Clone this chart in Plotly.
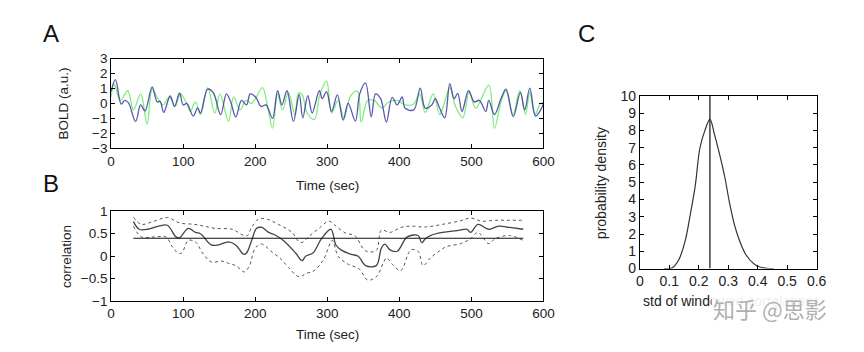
import plotly.graph_objects as go

# ---------------- Panel A: BOLD signals (extrema) ----------------
blue_t = [0, 6, 14, 19, 24, 34, 41, 47, 57, 64, 68, 73, 82, 88, 95, 100, 105, 114, 120, 124,
          134, 142, 152, 160, 166, 173, 181, 188, 193, 201, 208, 215, 224, 231, 237, 244, 253,
          261, 266, 273, 279, 289, 293, 299, 306, 314, 322, 329, 339, 345, 353, 361, 367, 374,
          382, 390, 397, 404, 408, 420, 429, 436, 445, 450, 455, 463, 470, 476, 481, 487, 496,
          504, 511, 520, 524, 532, 541, 548, 558, 568, 574, 581, 589, 595, 600]
blue_v = [0.8, 1.6, -0.05, 0.2, 0.05, -1.2, -0.1, -0.5, 1.1, 0.1, 0.15, -0.6, 0.5, -0.2, 0.7, -0.1, 0.0, -0.85, -0.3, -0.65,
          0.96, 0.7, -0.75, 0.64, 0.1, -0.9, 0.2, -0.1, 0.64, 0.4, -0.2, -0.1, -1.0, 0.85, -0.1, 0.85, -1.2,
          0.6, -0.96, 0.53, -0.64, 0.85, 0.32, 0.79, -0.53, 0.57, -1.12, 0.0, -1.18, 0.64, 1.38, -0.89, 0.64, 0.32,
          -1.24, 0.4, -0.1, 0.43, -0.32, -0.43, 1.02, -0.32, -0.1, 0.32, -0.2, -0.96, 1.32, 0.32, 0.68, -0.53, 0.85,
          0.1, 0.21, -0.53, 0.2, -0.74, 0.32, 0.96, -0.89, 0.74, -0.43, 1.02, -0.85, -0.53, 0.0]

green_t = [0, 4, 13, 23, 31, 41, 50, 57, 65, 72, 81, 89, 96, 105, 110, 117, 124, 134, 144, 151,
           163, 170, 179, 187, 195, 210, 217, 224, 231, 238, 246, 255, 260, 265, 272, 282, 290,
           299, 306, 315, 323, 332, 342, 347, 356, 365, 376, 385, 397, 408, 420, 428, 436, 447,
           456, 463, 470, 478, 488, 497, 506, 524, 532, 541, 548, 558, 567, 575, 581, 588, 596, 600]
green_v = [0.43, 1.3, 0.21, 0.85, -0.43, 0.64, -1.38, 0.96, 0.32, -0.1, 0.43, -0.2, 0.64, 0.0, -0.53, 0.1, -0.74, 1.06, -0.64, 0.64,
           -1.2, 0.43, -0.43, 0.21, 0.0, 1.06, -0.2, -1.65, 0.64, -0.43, 0.74, -0.74, 0.7, 0.6, -0.64, -1.07, 0.64,
           1.49, -0.64, 0.2, -0.96, 0.47, 0.81, -1.24, 0.2, 0.2, -0.3, 0.1, 0.2, -0.1, -0.04, 0.64, -0.6, 0.64,
           -0.74, 0.1, 1.06, -0.2, -0.96, 0.74, -0.32, 1.23, -1.66, 0.1, 0.85, -0.74, 0.85, -0.74, 0.74, -0.74, 0.0, 0.05]

# ---------------- Panel B: windowed correlation ----------------
mean_t = [31, 39, 51, 66, 78, 90, 95, 107, 117, 124, 139, 149, 163, 173, 184, 188, 195, 202, 209, 219,
          229, 241, 256, 265, 270, 280, 292, 305, 312, 319, 333, 343, 353, 368, 375, 380, 387, 397,
          411, 426, 431, 436, 443, 460, 480, 494, 499, 509, 524, 538, 553, 572]
mean_v = [0.77, 0.6, 0.6, 0.67, 0.69, 0.43, 0.41, 0.62, 0.53, 0.5, 0.25, 0.25, 0.32, 0.25, 0.04, 0.07, 0.35, 0.62, 0.64, 0.53,
          0.46, 0.32, 0.07, -0.1, 0.0, 0.07, 0.39, 0.6, 0.25, 0.14, 0.04, 0.0, -0.21, -0.21, 0.18, 0.27, 0.14, 0.11,
          0.43, 0.46, 0.30, 0.39, 0.46, 0.53, 0.57, 0.6, 0.53, 0.71, 0.6, 0.67, 0.64, 0.6]

upper_t = [31, 42, 56, 78, 95, 115, 129, 144, 168, 188, 195, 205, 217, 232, 251, 263, 276, 290, 302, 312,
           326, 338, 353, 368, 375, 387, 402, 416, 436, 460, 485, 499, 514, 533, 553, 572]
upper_v = [0.87, 0.71, 0.76, 0.86, 0.74, 0.71, 0.67, 0.62, 0.6, 0.45, 0.64, 0.83, 0.82, 0.71, 0.53, 0.3, 0.46, 0.64, 0.78, 0.67,
           0.51, 0.46, 0.12, 0.13, 0.58, 0.53, 0.64, 0.67, 0.65, 0.71, 0.79, 0.85, 0.78, 0.8, 0.8, 0.8]

lower_t = [31, 42, 61, 76, 85, 93, 98, 107, 117, 127, 139, 154, 163, 173, 185, 192, 200, 209, 222, 236,
           246, 261, 270, 282, 295, 307, 315, 329, 344, 356, 368, 378, 382, 392, 402, 416, 426, 433,
           443, 455, 465, 485, 499, 509, 524, 533, 553, 572]
lower_v = [0.67, 0.43, 0.43, 0.43, 0.21, 0.07, 0.07, 0.35, 0.32, 0.07, -0.13, -0.11, -0.16, -0.21, -0.35, -0.21, 0.18, 0.27, 0.11, -0.07,
           -0.25, -0.46, -0.39, -0.32, -0.07, 0.35, 0.0, -0.18, -0.28, -0.53, -0.46, -0.14, -0.04, -0.21, -0.32, 0.14, 0.11, -0.21,
           -0.04, 0.11, 0.21, 0.28, 0.39, 0.53, 0.28, 0.39, 0.46, 0.35]

thresh_t = [31, 572]
thresh_v = [0.4, 0.4]

# ---------------- Panel C: density of std ----------------
std_x = [0.082, 0.11, 0.132, 0.154, 0.171, 0.188, 0.204, 0.221, 0.238, 0.254, 0.271, 0.288, 0.304,
         0.321, 0.338, 0.36, 0.388, 0.41, 0.454]
dens_y = [0.0, 0.05, 0.5, 1.6, 3.1, 4.77, 6.98, 8.0, 8.64, 7.72, 6.6, 5.33, 3.85,
          2.55, 1.64, 0.8, 0.27, 0.08, 0.0]
obs_std = 0.238

W, H = 864, 352
FONT = "Liberation Sans, Arial, sans-serif"

fig = go.Figure()
fig.add_trace(go.Scatter(x=green_t, y=green_v, mode="lines", line=dict(color="#7ded7d", width=1.3, shape="spline"), xaxis="x", yaxis="y"))
fig.add_trace(go.Scatter(x=blue_t, y=blue_v, mode="lines", line=dict(color="#3c3ca0", width=1.3, shape="spline"), opacity=0.85, xaxis="x", yaxis="y"))

fig.add_trace(go.Scatter(x=upper_t, y=upper_v, mode="lines", line=dict(color="#555555", width=1, dash="dot", shape="spline"), xaxis="x2", yaxis="y2"))
fig.add_trace(go.Scatter(x=lower_t, y=lower_v, mode="lines", line=dict(color="#555555", width=1, dash="dot", shape="spline"), xaxis="x2", yaxis="y2"))
fig.add_trace(go.Scatter(x=mean_t, y=mean_v, mode="lines", line=dict(color="#444444", width=1.3, shape="spline"), xaxis="x2", yaxis="y2"))
fig.add_trace(go.Scatter(x=thresh_t, y=thresh_v, mode="lines", line=dict(color="#111111", width=1.2), xaxis="x2", yaxis="y2"))

fig.add_trace(go.Scatter(x=std_x, y=dens_y, mode="lines", line=dict(color="#333333", width=1.2, shape="spline"), xaxis="x3", yaxis="y3"))
fig.add_trace(go.Scatter(x=[obs_std, obs_std], y=[0, 10], mode="lines", line=dict(color="#111111", width=1.2), xaxis="x3", yaxis="y3"))

def px2fx(px):
    return px / W

def py2fy(py):
    return 1 - py / H

def axis_common(size):
    return dict(showline=True, linecolor="black", linewidth=1, mirror="allticks", ticks="inside",
                ticklen=4, tickcolor="black", showgrid=False, zeroline=False,
                tickfont=dict(family=FONT, size=size, color="#222"))

fig.update_layout(
    width=W, height=H, margin=dict(l=0, r=0, t=0, b=0),
    paper_bgcolor="white", plot_bgcolor="white", showlegend=False,
    xaxis=dict(domain=[px2fx(109), px2fx(549)], range=[0, 600], tickvals=[0, 100, 200, 300, 400, 500, 600], anchor="y", **axis_common(13.5)),
    yaxis=dict(domain=[py2fy(147), py2fy(53)], range=[-3, 3], tickvals=[-3, -2, -1, 0, 1, 2, 3],
               ticktext=["\u22123", "\u22122", "\u22121", "0", "1", "2", "3"], anchor="x", **axis_common(13.5)),
    xaxis2=dict(domain=[px2fx(109), px2fx(549)], range=[0, 600], tickvals=[0, 100, 200, 300, 400, 500, 600], anchor="y2", **axis_common(13.5)),
    yaxis2=dict(domain=[py2fy(307), py2fy(213)], range=[-1, 1], tickvals=[-1, -0.5, 0, 0.5, 1],
                ticktext=["\u22121", "\u22120.5", "0", "0.5", "1"], anchor="x2", **axis_common(13.5)),
    xaxis3=dict(domain=[px2fx(647), px2fx(827)], range=[0, 0.6], tickvals=[0, 0.1, 0.2, 0.3, 0.4, 0.5, 0.6],
                ticktext=["0", "0.1", "0.2", "0.3", "0.4", "0.5", "0.6"], anchor="y3", **axis_common(14)),
    yaxis3=dict(domain=[py2fy(273), py2fy(92)], range=[0, 10], tickvals=list(range(0, 11)), anchor="x3", **axis_common(14)),
)

def ann(text, x, y, size, angle=0, color="#222", family=FONT, **kw):
    fig.add_annotation(text=text, x=px2fx(x), y=py2fy(y), xref="paper", yref="paper",
                       showarrow=False, textangle=angle, xanchor="center", yanchor="middle",
                       font=dict(family=family, size=size, color=color), **kw)

ann("A", 48, 27, 24, color="#111")
ann("B", 48, 184, 24, color="#111")
ann("C", 593, 27, 24, color="#111")
ann("BOLD (a.u.)", 60, 100, 13.5, angle=-90)
ann("Time (sec)", 329, 186, 13.5)
ann("correlation", 63, 260, 13.5, angle=-90)
ann("Time (sec)", 329, 342, 13.5)
ann("probability density", 607, 183, 14, angle=-90)
ann("std of windowed correlations", 740, 307, 14)
ann("知乎 @思影", 780, 314, 22, color="rgba(165,165,165,0.9)", family="Noto Sans CJK SC",
    bgcolor="rgba(255,255,255,0.92)")

fig.write_html("out.html")
